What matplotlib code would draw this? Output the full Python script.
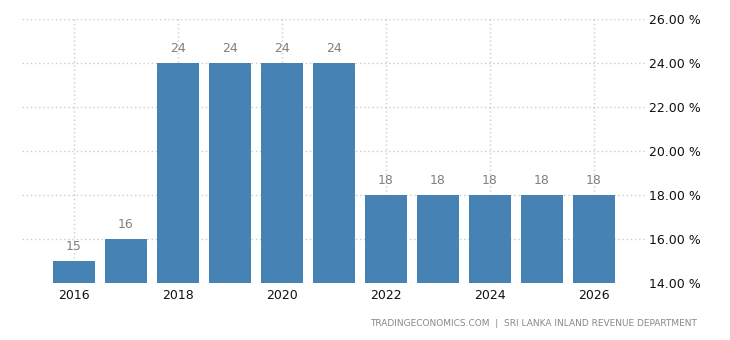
import matplotlib
matplotlib.use("Agg")
import matplotlib.pyplot as plt

years = [2016, 2017, 2018, 2019, 2020, 2021, 2022, 2023, 2024, 2025, 2026]
values = [15, 16, 24, 24, 24, 24, 18, 18, 18, 18, 18]
xticks = [2016, 2018, 2020, 2022, 2024, 2026]
yticks = [14, 16, 18, 20, 22, 24, 26]

fig = plt.figure(figsize=(7.3, 3.4), dpi=100)
ax = fig.add_axes([22/730, 57/340, (646-22)/730, (283-19)/340])

ax.bar(years, [v - 14 for v in values], bottom=14, width=0.81, color="#4682B4", zorder=2)
for x, v in zip(years, values):
    ax.text(x, v + 0.35, f"{v}", ha="center", va="bottom", fontsize=9, color="#808080", zorder=3)

ax.set_xlim(2015, 2027)
ax.set_ylim(14, 26)
ax.set_xticks(xticks)
ax.set_xticklabels([str(x) for x in xticks], fontsize=9, color="#111111")
ax.set_yticks(yticks)
ax.set_yticklabels([f"{y:.2f} %" for y in yticks], fontsize=9, color="#111111")
ax.yaxis.tick_right()
ax.tick_params(axis="both", length=0)
ax.tick_params(axis="y", pad=2)
ax.tick_params(axis="x", pad=4)
ax.grid(True, color="#cccccc", linestyle=(0, (1, 2)), linewidth=1, zorder=0)
ax.set_axisbelow(True)
for s in ax.spines.values():
    s.set_visible(False)

fig.text(697/730, 1 - 324/340, "TRADINGECONOMICS.COM  |  SRI LANKA INLAND REVENUE DEPARTMENT",
         ha="right", va="center", fontsize=6.5, color="#888888")

fig.savefig("out.png", dpi=100)
